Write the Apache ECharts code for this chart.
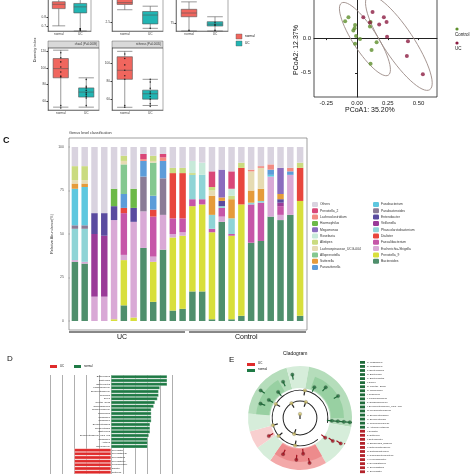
<!DOCTYPE html>
<html><head><meta charset="utf-8">
<script src="https://cdn.jsdelivr.net/npm/echarts@6/dist/echarts.min.js"></script>
<style>html,body{margin:0;padding:0;background:#fff}#c{width:474px;height:474px}</style>
</head><body><div id="c"></div>
<script>
// ---- panel A/B boxplots ----
var boxGroups = ['normal', 'UC'];
var box1 = [[0.70, 0.90, 0.95, 0.98, 1.05], [0.64, 0.85, 0.92, 0.96, 1.02]];
var box1Pts = [[1, 0.665], [1, 0.665], [1, 0.645], [1, 0.66]];
var box2 = [[3.2, 3.5, 3.6, 3.8, 3.9], [2.15, 2.4, 2.9, 3.1, 3.4]];
var box2Pts = [[1, 2.15]];
var box3 = [[63, 86, 92, 98, 110], [63, 71, 74, 78, 86]];
var box3Pts = [[0, 64], [1, 77], [1, 74], [1, 72], [1, 64]];
var chao1 = [[53, 88, 99, 111, 121], [53, 65, 71, 76, 88]];
var chao1Pts = [[0, 112], [0, 107], [0, 101], [0, 95], [0, 90], [0, 89], [0, 55], [0, 52], [0, 118],
  [1, 86], [1, 76], [1, 73], [1, 70], [1, 68], [1, 66], [1, 64], [1, 55], [1, 78]];
var richness = [[51, 82, 92, 107, 113], [53, 60, 66, 70, 82]];
var richPts = [[0, 110], [0, 105], [0, 98], [0, 92], [0, 86], [0, 82], [0, 53], [0, 51],
  [1, 82], [1, 72], [1, 68], [1, 66], [1, 63], [1, 60], [1, 55], [1, 52], [1, 79]];

// ---- PCoA ----
var pcoaControl = [[-0.097, 0.243], [-0.07, 0.30], [-0.03, 0.108], [-0.016, 0.19], [-0.02, 0.144],
  [-0.008, 0.03], [0.024, -0.014], [-0.016, -0.081], [0.11, 0.234], [0.105, 0.166],
  [0.159, -0.058], [0.118, -0.17], [0.11, -0.37]];
var pcoaUC = [[0.051, 0.30], [0.126, 0.378], [0.105, 0.225], [0.18, 0.198], [0.218, 0.30],
  [0.24, 0.234], [0.244, 0.018], [0.414, -0.045], [0.405, -0.26], [0.535, -0.52]];
var pcoaXTicks = [-0.25, 0, 0.25, 0.5];
var pcoaYTicks = [-0.5, 0];
var ellipses = [[0.064, -0.014, 43, 12, 57], [0.34, -0.07, 56, 15, 56.5]];

// ---- panel C genus composition ----
var samples = ['U1','U2','U3','U4','U5','U6','U7','U8','U9','U10','U11','U12',
  'C1','C2','C3','C4','C5','C6','C7','C8','C9','C10','C11','C12'];
var genera = ['Bacteroides','Prevotella_9','Escherichia-Shigella','Faecalibacterium','Dialister',
  'Phascolarctobacterium','Veillonella','Enterobacter','Parabacteroides','Fusobacterium',
  'Parasutterella','Sutterella','Alloprevotella','Lachnospiraceae_UCG-004','Alistipes',
  'Roseburia','Megamonas','Haemophilus','Lachnoclostridium','Prevotella_2','Others'];
var genusColors = ['#4f8f6c','#d8df3c','#d9a9d6','#c656a8','#e8463d','#8fd4d6','#9a3b98','#5a4b9f',
  '#8b7b96','#5ec7df','#5c9cd9','#e59b3b','#84c890','#e6dbb2','#cadb80','#c7e9d9','#8b6cbe',
  '#6db948','#f28b82','#d94778','#d9d3df'];
var abund = [
  [34,33,0,0,0,9,0,42,11,41,6,7,17,17,1,57,1,3,45,46,60,58,61,3],
  [0,0,0,0,1,26,2,0,23,0,42,42,49,50,50,0,48,64,0,0,0,0,0,66],
  [1,1,14,14,57,3,55,21,3,20,2,2,0,0,0,3,0,0,0,0,23,3,23,0],
  [0,0,0,0,0,24,0,0,23,0,9,8,4,3,2,5,1,0,22,22,0,5,0,0],
  [0,0,0,0,0,3,0,0,4,0,26,26,0,0,0,0,0,21,0,0,0,0,0,19],
  [18,19,0,0,0,0,0,0,0,0,0,0,14,14,8,1,9,0,1,1,0,0,0,0],
  [0,0,36,35,0,0,0,0,0,0,0,0,0,0,0,0,0,0,0,0,0,2,0,0],
  [0,0,12,13,8,0,8,0,0,0,0,0,0,0,0,3,0,0,0,0,0,2,0,0],
  [2,2,0,0,0,0,0,20,0,21,0,0,0,0,0,0,0,0,0,0,0,0,0,0],
  [21,22,0,0,0,0,0,0,0,0,0,0,0,0,0,0,0,0,0,0,1,0,0,0],
  [0,0,0,0,0,8,0,9,8,10,0,0,0,0,0,0,0,0,0,0,3,0,2,0],
  [3,2,0,0,0,0,0,0,0,0,0,0,0,0,11,2,11,0,7,7,0,3,0,0],
  [0,0,0,0,0,17,0,0,19,0,0,0,0,0,0,0,0,0,0,0,0,0,0,0],
  [2,2,0,0,0,2,0,0,1,0,0,0,0,0,3,0,0,0,11,12,0,0,0,0],
  [8,8,0,0,0,3,0,0,3,0,3,3,1,0,2,0,2,3,0,0,0,0,0,3],
  [0,0,0,0,0,0,0,0,0,0,0,0,7,7,0,0,4,0,0,0,0,0,0,0],
  [0,0,0,0,0,0,0,0,0,0,0,0,0,0,0,16,0,0,0,0,0,15,0,0],
  [0,0,0,0,10,0,11,0,0,0,0,0,0,0,0,0,0,0,0,0,0,0,0,0],
  [0,0,0,0,0,0,0,1,0,2,0,0,0,0,0,0,0,0,1,1,3,0,2,0],
  [0,0,0,0,0,0,0,3,0,2,0,0,0,0,9,0,10,0,0,0,0,0,0,0],
  [11,11,38,38,24,5,24,4,5,4,12,12,8,9,14,13,14,9,13,11,10,12,12,9]
];
var legendCol1 = ['Others','Prevotella_2','Lachnoclostridium','Haemophilus','Megamonas','Roseburia',
  'Alistipes','Lachnospiraceae_UCG-004','Alloprevotella','Sutterella','Parasutterella'];
var legendCol2 = ['Fusobacterium','Parabacteroides','Enterobacter','Veillonella','Phascolarctobacterium',
  'Dialister','Faecalibacterium','Escherichia-Shigella','Prevotella_9','Bacteroides'];

// ---- panel D LDA ----
var ldaTaxa = ['Bacteroidales','Bacteroidia','Bacteroidetes','Lachnospiraceae','Erysipelotrichaceae',
  'Roseburia','Dorea','Incertae_Sedis','Subdoligranulum','Ruminococcaceae','Lachnospira','Unassigned',
  'Unassigned','Erysipelotrichales','Erysipelotrichia','Bacteroides','Erysipelotrichaceae_UCG_003',
  'Unassigned','Alistipes','Rikenellaceae',
  'Synergistia','Synergistaceae','Synergistales','Synergistetes','Pyramidobacter','Dialister','Sutterella'];
var ldaNormal = [4.6,4.6,4.6,4.0,3.9,3.9,3.8,3.6,3.5,3.3,3.3,3.3,3.3,3.2,3.2,3.2,3.1,3.0,3.0,3.0];
var ldaUC = [-3,-3,-3,-3,-3,-3,-3];

// ---- panel E cladogram ----
var cladoLabels = ['a: Unassigned','b: Unassigned','c: Bacteroidales','d: Bacteroidia','e: Bacteroidetes',
  'f: Dorea','g: Incertae_Sedis','h: Lachnospira','i: Roseburia','j: Lachnospiraceae','k: Subdoligranulum',
  'l: Erysipelotrichaceae_UCG_003','m: Erysipelotrichaceae','n: Erysipelotrichales','o: Erysipelotrichia',
  'p: Ruminococcaceae','q: Actinomycetaceae','r: Dialister','s: Sutterella','t: Enterobacter',
  'u: Escherichia_Shigella','v: Enterobacteriaceae','w: Enterobacteriales','x: Gammaproteobacteria',
  'y: Pyramidobacter','z: Synergistaceae','0: Synergistales','1: Synergistia'];
var cladoGroup = [0,0,0,0,0,0,0,0,0,0,0,0,0,0,0,0,0,1,1,1,1,1,1,1,1,1,1,1];
var sectorOuter = [
  {value: 10, c: '#d6edda'}, {value: 90, c: '#b5ddbb'}, {value: 50, c: '#d6edda'},
  {value: 65, c: '#f3a9a9'}, {value: 20, c: '#d6edda'}, {value: 20, c: '#f8cfcf'},
  {value: 20, c: '#d6edda'}, {value: 70, c: '#b5ddbb'}, {value: 15, c: '#d6edda'}];
var sectorInner = [
  {value: 20, c: '#ffffff'}, {value: 70, c: '#8ccb97'}, {value: 60, c: '#ffffff'},
  {value: 65, c: '#ea7f80'}, {value: 60, c: '#ffffff'}, {value: 55, c: '#8ccb97'}, {value: 30, c: '#ffffff'}];
var nodesYellow = [[4, 0], [17, 20], [17, 330], [28, 10], [28, 300], [28, 230], [28, 190], [17, 200], [28, 255]];
var nodesGreen = [[34, 25], [40, 40], [44, 60], [32, 95], [38, 95], [44, 95], [50, 95], [56, 95],
  [36, 300], [42, 290], [48, 305], [34, 320], [40, 335], [44, 350]];
var nodesRed = [[32, 128], [40, 125], [48, 122], [56, 120], [36, 175], [42, 185], [46, 168], [40, 205], [36, 240]];

var chart = echarts.init(document.getElementById('c'));
var F = 'Liberation Sans, Arial, sans-serif';
var tiny = {fontSize: 3.2, color: '#444', fontFamily: F};
var normalC = '#f0665e', ucC = '#22b5b3';

function boxAxes(gi, min, max, ticks) {
  return {
    x: {type: 'category', gridIndex: gi, data: boxGroups, axisTick: {length: 1.5}, axisLine: {lineStyle: {color: '#333', width: 0.5}},
      axisLabel: Object.assign({margin: 2}, tiny)},
    y: {type: 'value', gridIndex: gi, min: min, max: max, splitLine: {show: false},
      axisLine: {show: true, lineStyle: {color: '#333', width: 0.5}}, axisTick: {show: true, length: 1.5, customValues: ticks},
      axisLabel: Object.assign({margin: 2, customValues: ticks}, tiny)}
  };
}
var bA = [boxAxes(0, 0.64, 1.0, [0.7, 0.8]), boxAxes(1, 2.0, 3.75, [2.5]), boxAxes(2, 63, 113, [75]),
  boxAxes(3, 49.6, 123.6, [60, 80, 100, 120]), boxAxes(4, 48, 116.7, [60, 80, 100])];

var xAxes = bA.map(function (a) { return a.x; });
var yAxes = bA.map(function (a) { return a.y; });
// 5: PCoA
xAxes.push({type: 'value', gridIndex: 5, min: -0.35, max: 0.65, splitLine: {show: false},
  axisLine: {lineStyle: {color: '#222'}}, axisTick: {length: 2, customValues: pcoaXTicks},
  axisLabel: {fontSize: 6, color: '#222', fontFamily: F, margin: 3, customValues: pcoaXTicks,
    formatter: function (v) { return v.toFixed(2); }}});
yAxes.push({type: 'value', gridIndex: 5, min: -0.85, max: 0.55, splitLine: {show: false},
  axisLine: {show: true, lineStyle: {color: '#222'}}, axisTick: {show: true, length: 2, customValues: pcoaYTicks},
  axisLabel: {fontSize: 6, color: '#222', fontFamily: F, margin: 3, customValues: pcoaYTicks,
    formatter: function (v) { return v.toFixed(1); }}});
// 6: genus bars
xAxes.push({type: 'category', gridIndex: 6, data: samples, axisLine: {show: false},
  axisTick: {length: 2, alignWithLabel: true, lineStyle: {color: '#666', width: 0.4}}, axisLabel: {show: false}});
yAxes.push({type: 'value', gridIndex: 6, min: 0, max: 100, interval: 25, splitLine: {show: false},
  axisLine: {show: false}, axisTick: {show: true, length: 1.5, lineStyle: {color: '#666', width: 0.4}},
  axisLabel: {fontSize: 3.5, color: '#555', fontFamily: F, margin: 6},
  name: 'Relative Abundance(%)', nameLocation: 'middle', nameGap: 14,
  nameTextStyle: {fontSize: 3.8, color: '#333', fontFamily: F}});
// 7: LDA
xAxes.push({type: 'value', gridIndex: 7, min: -5, max: 5, interval: 1, axisLabel: {show: false},
  axisLine: {show: false}, axisTick: {show: false}, splitLine: {lineStyle: {color: '#9a9a9a', width: 0.8}}});
yAxes.push({type: 'category', gridIndex: 7, inverse: true, data: ldaTaxa, show: false});

var series = [];
function addBox(gi, data, pts) {
  series.push({type: 'boxplot', xAxisIndex: gi, yAxisIndex: gi, boxWidth: ['60%', '60%'],
    data: data.map(function (d, i) { return {value: d, itemStyle: {color: i ? ucC : normalC}}; }),
    itemStyle: {borderColor: '#555', borderWidth: 0.6}, silent: true});
  series.push({type: 'scatter', xAxisIndex: gi, yAxisIndex: gi, data: pts, symbolSize: 1.6,
    itemStyle: {color: '#111'}, silent: true});
}
addBox(0, box1, box1Pts); addBox(1, box2, box2Pts); addBox(2, box3, box3Pts);
addBox(3, chao1, chao1Pts); addBox(4, richness, richPts);

series.push({type: 'custom', xAxisIndex: 5, yAxisIndex: 5, data: ellipses, silent: true,
  renderItem: function (params, api) {
    var c = api.coord([api.value(0), api.value(1)]);
    var rx = api.value(2), ry = api.value(3), a = api.value(4) * Math.PI / 180;
    var pts = [];
    for (var k = 0; k <= 60; k++) {
      var t = k / 60 * Math.PI * 2, x = rx * Math.cos(t), y = ry * Math.sin(t);
      pts.push([c[0] + x * Math.cos(a) - y * Math.sin(a), c[1] + x * Math.sin(a) + y * Math.cos(a)]);
    }
    return {type: 'polyline', shape: {points: pts}, style: {fill: null, stroke: '#9b8a86', lineWidth: 0.9}};
  }});
series.push({type: 'scatter', xAxisIndex: 5, yAxisIndex: 5, data: pcoaControl, symbolSize: 4, itemStyle: {color: '#5e8f2c'}});
series.push({type: 'scatter', xAxisIndex: 5, yAxisIndex: 5, data: pcoaUC, symbolSize: 4, itemStyle: {color: '#8c1d42'}});

genera.forEach(function (g, i) {
  series.push({type: 'bar', name: g, stack: 'genus', xAxisIndex: 6, yAxisIndex: 6, barWidth: '66%',
    data: abund[i], itemStyle: {color: genusColors[i]}, silent: true});
});

series.push({type: 'bar', xAxisIndex: 7, yAxisIndex: 7, stack: 'lda', barWidth: '90%', silent: true,
  data: ldaNormal.concat(ldaUC.map(function () { return '-'; })), itemStyle: {color: '#1f7a45', borderColor: '#fff', borderWidth: 0.3},
  label: {show: true, position: 'left', fontSize: 2.2, color: '#222', distance: 1, formatter: function (p) { return ldaTaxa[p.dataIndex]; }}});
series.push({type: 'bar', xAxisIndex: 7, yAxisIndex: 7, stack: 'lda', barWidth: '90%', silent: true,
  data: ldaNormal.map(function () { return '-'; }).concat(ldaUC), itemStyle: {color: '#df2b2b', borderColor: '#fff', borderWidth: 0.3},
  label: {show: true, position: 'right', fontSize: 2.2, color: '#222', distance: 1, formatter: function (p) { return ldaTaxa[p.dataIndex]; }}});

// cladogram
var cc = [300, 418];
series.push({type: 'pie', center: cc, radius: [30, 52], startAngle: 90, silent: true, label: {show: false}, z: 1,
  data: sectorOuter.map(function (s) { return {value: s.value, itemStyle: {color: s.c}}; })});
series.push({type: 'pie', center: cc, radius: [31, 44], startAngle: 90, silent: true, label: {show: false}, z: 1,
  data: sectorInner.map(function (s) { return {value: s.value, itemStyle: {color: s.c, opacity: s.c === '#ffffff' ? 0 : 0.7}}; })});
series.push({type: 'pie', center: cc, radius: [16.4, 17.4], silent: true, label: {show: false}, z: 2,
  data: [{value: 1, itemStyle: {color: '#222'}}]});
series.push({type: 'pie', center: cc, radius: [27.4, 28.3], startAngle: 90, silent: true, label: {show: false}, z: 2,
  data: [{value: 100, itemStyle: {color: '#222'}}, {value: 40, itemStyle: {color: 'rgba(0,0,0,0)'}},
    {value: 220, itemStyle: {color: '#222'}}]});
function spokes(nodes) {
  var out = [];
  nodes.forEach(function (n) { out.push([n[0] - 5, n[1]], n, '-'); });
  return out;
}
[['#d3c36a', nodesYellow], ['#1f6b3a', nodesGreen], ['#a3121f', nodesRed]].forEach(function (s) {
  series.push({type: 'line', coordinateSystem: 'polar', data: spokes(s[1]), symbol: 'none', connectNulls: false,
    lineStyle: {color: s[0] === '#d3c36a' ? '#222' : s[0], width: 1.2}, silent: true, z: 3});
  series.push({type: 'scatter', coordinateSystem: 'polar', data: s[1], symbolSize: 3.6,
    itemStyle: {color: s[0], borderColor: '#555', borderWidth: 0.3}, silent: true, z: 4});
});

// graphics
var g = [];
function txt(x, y, t, size, opt) {
  g.push({type: 'text', left: x, top: y, silent: true,
    style: Object.assign({text: t, fontSize: size, fill: '#111', fontFamily: F}, opt || {})});
}
[[48, 41, 'chao1 (P=0.0009)'], [112, 41, 'richness (P=0.0005)']].forEach(function (s) {
  g.push({type: 'rect', shape: {x: s[0], y: s[1], width: 51, height: 7}, style: {fill: '#d9d9d9', stroke: '#444', lineWidth: 0.4}});
  g.push({type: 'text', x: s[0] + 49, y: s[1] + 2.2, style: {text: s[2], fontSize: 2.8, fill: '#333', textAlign: 'right', fontFamily: F}});
});
// facet frames
[[48, -39, 43, 70], [112, -39, 51, 70], [176, -39, 52, 70], [48, 48, 51, 62], [112, 48, 51, 62]].forEach(function (r) {
  g.push({type: 'rect', shape: {x: r[0], y: r[1], width: r[2], height: r[3]}, style: {fill: null, stroke: '#555', lineWidth: 0.5}});
});
g.push({type: 'rect', shape: {x: 314, y: -5, width: 123, height: 102}, style: {fill: null, stroke: '#222', lineWidth: 0.8}});
g.push({type: 'text', x: 33, y: 50, rotation: Math.PI / 2, style: {text: 'Diversity index', fontSize: 3.8, fill: '#333', textAlign: 'center', fontFamily: F}});
g.push({type: 'rect', shape: {x: 236, y: 34, width: 6, height: 5}, style: {fill: normalC, stroke: '#555', lineWidth: 0.4}});
g.push({type: 'rect', shape: {x: 236, y: 41, width: 6, height: 5}, style: {fill: ucC, stroke: '#555', lineWidth: 0.4}});
txt(245, 35, 'normal', 3.2); txt(245, 42, 'UC', 3.2);
// PCoA text
g.push({type: 'text', x: 293, y: 50, rotation: Math.PI / 2, style: {text: 'PCoA2: 12.37%', fontSize: 7, fill: '#111', textAlign: 'center', fontFamily: F}});
txt(345, 107, 'PCoA1: 35.20%', 7);
g.push({type: 'circle', shape: {cx: 457, cy: 29, r: 1.6}, style: {fill: '#5e8f2c'}});
g.push({type: 'circle', shape: {cx: 457, cy: 43, r: 1.6}, style: {fill: '#8c1d42'}});
txt(455, 32, 'Control', 4.5); txt(455, 46, 'UC', 4.5);
// C
txt(3, 136, 'C', 9, {fontWeight: 'bold'});
txt(69, 131, 'Genus level classification', 3.8, {fill: '#333'});
g.push({type: 'rect', shape: {x: 69, y: 138, width: 238, height: 192}, style: {fill: null, stroke: '#777', lineWidth: 0.7}});
g.push({type: 'line', shape: {x1: 69, y1: 332, x2: 185, y2: 332}, style: {stroke: '#111', lineWidth: 1}});
g.push({type: 'line', shape: {x1: 189, y1: 332, x2: 306, y2: 332}, style: {stroke: '#111', lineWidth: 1}});
txt(117, 334, 'UC', 7); txt(235, 334, 'Control', 7);
// D
txt(7, 355, 'D', 8);
g.push({type: 'rect', shape: {x: 50, y: 365, width: 7, height: 3}, style: {fill: '#df2b2b'}});
g.push({type: 'rect', shape: {x: 74, y: 365, width: 7, height: 3}, style: {fill: '#1f7a45'}});
txt(60, 364.5, 'UC', 2.8); txt(84, 364.5, 'normal', 2.8);
// E
txt(229, 356, 'E', 8);
txt(283, 351, 'Cladogram', 5);
g.push({type: 'rect', shape: {x: 247, y: 363, width: 8, height: 3}, style: {fill: '#df2b2b'}});
g.push({type: 'rect', shape: {x: 247, y: 369, width: 8, height: 3}, style: {fill: '#1f7a45'}});
txt(258, 362, 'UC', 3); txt(258, 368, 'normal', 3);
cladoLabels.forEach(function (l, i) {
  var y = 361 + i * 4.05;
  g.push({type: 'rect', shape: {x: 360, y: y, width: 5, height: 2.8}, style: {fill: cladoGroup[i] ? '#b3232b' : '#1f6b3a'}});
  g.push({type: 'text', x: 367, y: y + 0.2, style: {text: l, fontSize: 2.4, fill: '#333', fontFamily: F}});
});

var legendBase = {orient: 'vertical', itemWidth: 6, itemHeight: 5, itemGap: 1.3, selectedMode: false,
  textStyle: {fontSize: 3.3, color: '#333', fontFamily: F, padding: [0, 0, 0, -3]}, padding: 0};

chart.setOption({
  animation: false,
  grid: [
    {left: 48, top: -39, width: 43, height: 70},
    {left: 112, top: -39, width: 51, height: 70},
    {left: 176, top: -39, width: 52, height: 70},
    {left: 48, top: 48, width: 51, height: 62},
    {left: 112, top: 48, width: 51, height: 62},
    {left: 314, top: -5, width: 123, height: 102},
    {left: 70, top: 147, width: 235, height: 174},
    {left: 50, top: 375, width: 122, height: 99}
  ],
  polar: {center: cc, radius: 52},
  angleAxis: {type: 'value', min: 0, max: 360, startAngle: 90, clockwise: true, show: false},
  radiusAxis: {type: 'value', min: 0, max: 52, show: false},
  xAxis: xAxes, yAxis: yAxes,
  legend: [
    Object.assign({left: 312, top: 202, data: legendCol1}, legendBase),
    Object.assign({left: 373, top: 202, data: legendCol2}, legendBase)
  ],
  graphic: g,
  series: series
});
</script></body></html>
